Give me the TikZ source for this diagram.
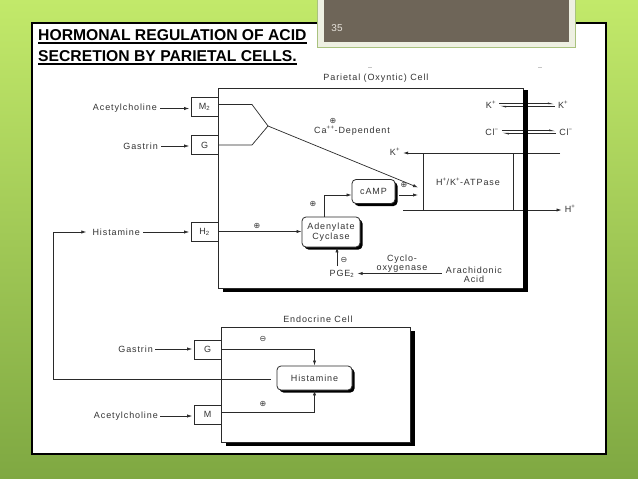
\documentclass[tikz,border=0pt]{standalone}
\usepackage{fontspec}
\setmainfont{Liberation Sans}
\newfontfamily\dfont[LetterSpace=10]{Liberation Sans}
\newfontfamily\symf{DejaVu Sans}
\usetikzlibrary{arrows.meta,shadows}
\definecolor{bgtop}{HTML}{C2E96A}
\definecolor{bgbot}{HTML}{7FA842}
\definecolor{slidebrown}{HTML}{6E6558}
\definecolor{slidecream}{HTML}{EEF0E2}
\definecolor{slideedge}{HTML}{A9C27E}
\definecolor{ink}{HTML}{2A2A2A}
\definecolor{txt}{HTML}{333333}
\definecolor{numtxt}{HTML}{E6E2DA}
\begin{document}
\begin{tikzpicture}[x=1pt,y=-1pt,
  lbl/.style={font=\dfont\fontsize{9}{9.5}\selectfont, text=txt, inner sep=0pt, align=center},
  sgn/.style={font=\symf\fontsize{8}{8}\selectfont, text=txt, inner sep=0pt},
  rbox/.style={draw=ink, line width=0.6pt, fill=white, inner sep=0pt, minimum width=27pt, minimum height=19pt, font=\dfont\fontsize{9}{9}\selectfont, text=txt},
  pill/.style={draw=ink, line width=0.8pt, fill=white, rounded corners=4pt, inner sep=0pt, align=center, font=\dfont\fontsize{9}{9.5}\selectfont, text=txt, drop shadow={shadow xshift=2.5pt, shadow yshift=-2.5pt, opacity=1, fill=black}},
  cell/.style={draw=ink, line width=0.6pt, fill=white, inner sep=0pt},
  ln/.style={draw=ink, line width=0.7pt},
  arr/.style={ln, -{Latex[length=5pt, width=3.2pt]}},
  harp/.style={draw=ink, line width=0.7pt, -{Latex[harpoon, length=5pt, width=2.8pt]}},
  title/.style={anchor=base west, inner sep=0pt, font=\bfseries\fontsize{15.7}{18}\selectfont, text=black}
]
\useasboundingbox (0,0) rectangle (638,479);
% background
\shade[top color=bgtop, bottom color=bgbot] (0,0) rectangle (638,479);
% white panel
\draw[line width=1.2pt, fill=white] (32,23) rectangle (606,454);
% slide number box
\draw[fill=slidecream, draw=slideedge, line width=0.6pt] (317,-5) rectangle (575,47);
\fill[slidebrown] (324,-5) rectangle (569,42);
\node[inner sep=0pt, text=numtxt, font=\fontsize{10}{12}\selectfont] (num) at (337,28) {35};
% title
\node[title] (t1) at (38,40.7) {HORMONAL REGULATION OF ACID};
\draw[line width=1.3pt] ([yshift=-2pt]t1.south west) -- ([yshift=-2pt]t1.south east);
\node[title] (t2) at (38,61.7) {SECRETION BY PARIETAL CELLS.};
\draw[line width=1.3pt] ([yshift=-2pt]t2.south west) -- ([yshift=-2pt]t2.south east);
% faint scan marks
\draw[gray!45, line width=0.6pt] (368,67) -- (372,67);
\draw[gray!45, line width=0.6pt] (538,67) -- (542,67);

% ---------- parietal cell ----------
\node[cell, minimum width=305pt, minimum height=200pt, drop shadow={shadow xshift=4.5pt, shadow yshift=-4pt, opacity=1, fill=black}] (pc) at (370.5,188) {};
\node[lbl] (pcl) at (376,78) {Parietal (Oxyntic) Cell};

\node[rbox] (M2) at (204.5,107) {M\textsubscript{2}};
\node[rbox] (G1) at (204.5,145) {G};
\node[rbox] (H2) at (204.5,231.5) {H\textsubscript{2}};

\node[lbl, anchor=east] (ach1) at (157,108.5) {Acetylcholine};
\node[lbl, anchor=east] (gas1) at (158,146) {Gastrin};
\node[lbl, anchor=east] (his1) at (140,232) {Histamine};
\draw[arr] ([xshift=3pt]ach1.east) -- ([xshift=-1.5pt]M2.west |- ach1.east);
\draw[arr] ([xshift=3pt]gas1.east) -- ([xshift=-1.5pt]G1.west |- gas1.east);
\draw[arr] ([xshift=3pt]his1.east) -- ([xshift=-1.5pt]H2.west |- his1.east);

% Ca-dependent pathway
\coordinate (j1) at (252,104.5);
\coordinate (j2) at (252,145);
\coordinate (jc) at (268,126);
\coordinate (cat) at (418,187.5);
\coordinate (cat2) at (418,195);
\draw[ln] (M2.east |- j1) -- (j1) -- (jc) -- (j2) -- (G1.east |- j2);
\draw[arr] (jc) -- (cat);
\node[sgn] (s1) at (333,121) {⊕};
\node[lbl] (cad) at (352,131) {Ca\textsuperscript{++}-Dependent};

% proton pump
\node[lbl, draw=ink, line width=0.7pt, minimum width=90pt, minimum height=57pt] (atp) at (468,181.5) {H\textsuperscript{+}/K\textsuperscript{+}-ATPase};
\node[lbl] (kout) at (395,152) {K\textsuperscript{+}};
\coordinate (kr) at (560,153);
\draw[arr] (kr) -- ([xshift=3pt]kout.east |- kr);
\coordinate (hl) at (403,210);
\node[lbl] (hout) at (570,209) {H\textsuperscript{+}};
\draw[arr] (hl) -- ([xshift=-3pt]hout.west |- hl);

% exchangers
\node[lbl] (kl) at (491,105) {K\textsuperscript{+}};
\node[lbl] (krr) at (563,105) {K\textsuperscript{+}};
\draw[harp] ([xshift=3pt,yshift=1.2pt]kl.east) -- ([xshift=-3pt,yshift=1.2pt]krr.west);
\draw[harp] ([xshift=-3pt,yshift=-1.2pt]krr.west) -- ([xshift=3pt,yshift=-1.2pt]kl.east);
\node[lbl] (cll) at (492,132) {Cl\textsuperscript{−}};
\node[lbl] (clr) at (566,132) {Cl\textsuperscript{−}};
\draw[harp] ([xshift=3pt,yshift=1.2pt]cll.east) -- ([xshift=-3pt,yshift=1.2pt]clr.west);
\draw[harp] ([xshift=-3pt,yshift=-1.2pt]clr.west) -- ([xshift=3pt,yshift=-1.2pt]cll.east);

% cAMP pathway
\node[pill, minimum width=43pt, minimum height=24pt] (camp) at (373.5,191.5) {cAMP};
\node[pill, minimum width=58pt, minimum height=30pt] (ac) at (331,232) {Adenylate\\Cyclase};
\coordinate (acb) at (324,195);
\draw[arr] (ac.north -| acb) -- (acb) -- (camp.west |- acb);
\node[sgn] (s3) at (313,204) {⊕};
\draw[arr] ([xshift=4pt]camp.east |- cat2) -- (cat2);
\node[sgn] (s2) at (404,185) {⊕};
\draw[arr] (H2.east) -- (H2.east -| ac.west);
\node[sgn] (s4) at (257,226) {⊕};

% prostaglandin
\node[lbl] (pge) at (342,273.5) {PGE\textsubscript{2}};
\coordinate (pgx) at (337,266);
\draw[arr] (pgx) -- (ac.south -| pgx);
\node[sgn] (s5) at (344,260) {⊖};
\node[lbl] (aa) at (474,275) {Arachidonic\\Acid};
\node[lbl] (cox) at (402,263.5) {Cyclo-\\oxygenase};
\draw[arr] ([xshift=-4pt]aa.west |- pge.east) -- ([xshift=3pt]pge.east);

% thick membrane edge on top
\fill[black] ([yshift=-2pt]pc.north east) rectangle ([xshift=4.5pt,yshift=-4pt]pc.south east);

% ---------- endocrine cell ----------
\node[cell, minimum width=189pt, minimum height=115pt, drop shadow={shadow xshift=4.5pt, shadow yshift=-4pt, opacity=1, fill=black}] (ec) at (315.5,384.5) {};
\node[lbl] (ecl) at (318,319) {Endocrine Cell};
\node[rbox] (G2) at (207.5,349.5) {G};
\node[rbox] (M) at (207.5,414.5) {M};
\node[lbl, anchor=east] (gas2) at (153,349) {Gastrin};
\node[lbl, anchor=east] (ach2) at (158,416) {Acetylcholine};
\draw[arr] ([xshift=2pt]gas2.east) -- ([xshift=-1.5pt]G2.west |- gas2.east);
\draw[arr] ([xshift=2pt]ach2.east) -- ([xshift=-1.5pt]M.west |- ach2.east);
\node[pill, minimum width=75pt, minimum height=24pt] (he) at (314.5,378) {Histamine};
\coordinate (ml) at (221,412);
\draw[arr] (G2.east) -- (G2.east -| he.north) -- (he.north);
\draw[arr] (M.east |- ml) -- (ml -| he.south) -- (he.south);
\node[sgn] (s6) at (263,339) {⊖};
\node[sgn] (s7) at (263,404) {⊕};

% histamine feedback loop
\coordinate (lc) at (53,232);
\coordinate (lb) at (53,379);
\draw[arr] (lc) -- ([xshift=-6pt]his1.west |- lc);
\draw[ln] (lc) -- (lb) -- ([xshift=-6pt]he.west |- lb);
\end{tikzpicture}
\end{document}
